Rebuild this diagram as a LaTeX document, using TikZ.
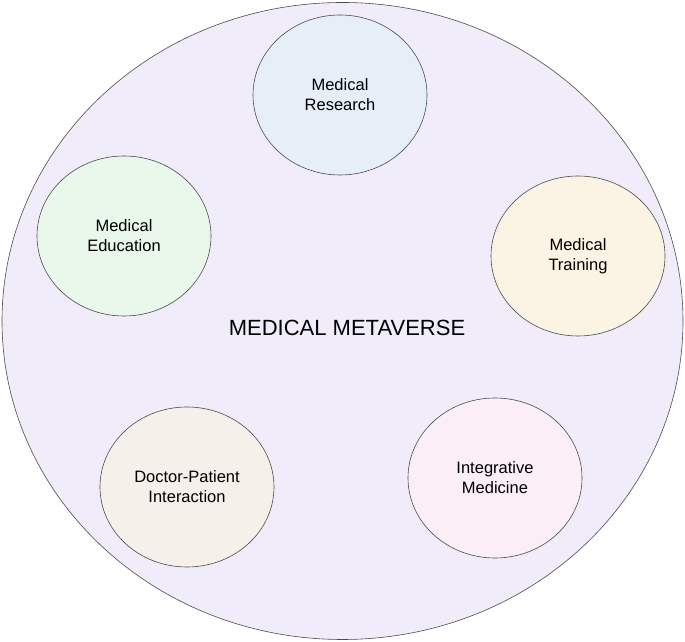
\documentclass[tikz,border=0pt]{standalone}
\usepackage{fontspec}
\setmainfont{Liberation Sans}
\usetikzlibrary{shapes.geometric}
\definecolor{metabg}{HTML}{F0ECF9}
\definecolor{researchbg}{HTML}{E6EEF7}
\definecolor{trainingbg}{HTML}{FBF3E3}
\definecolor{educationbg}{HTML}{EAF8EC}
\definecolor{doctorbg}{HTML}{F5F0EA}
\definecolor{integrbg}{HTML}{FBEEF6}
\begin{document}
\begin{tikzpicture}[x=1pt,y=1pt,
  area/.style={ellipse,draw=black!70,line width=0.6pt,minimum width=174pt,minimum height=160pt,align=center,font=\fontsize{16.5}{20}\selectfont,inner sep=0pt}]

  \useasboundingbox (0,0) rectangle (685,642);

  % --- outer circle ---
  \node[ellipse,draw=black!70,line width=0.6pt,fill=metabg,minimum width=681pt,minimum height=637pt,inner sep=0pt] (meta) at (342.5,321) {};
  \node[font=\fontsize{22}{26}\selectfont] (title) at (347,314) {MEDICAL METAVERSE};

  % --- application areas ---
  \node[area,fill=researchbg]  (research)    at (340,547) {Medical\\Research};
  \node[area,fill=trainingbg]  (training)    at (578,386) {Medical\\Training};
  \node[area,fill=educationbg] (education)   at (124,406) {Medical\\Education};
  \node[area,fill=doctorbg]    (doctor)      at (187,155) {Doctor-Patient\\Interaction};
  \node[area,fill=integrbg]    (integrative) at (495,164) {Integrative\\Medicine};

\end{tikzpicture}
\end{document}
